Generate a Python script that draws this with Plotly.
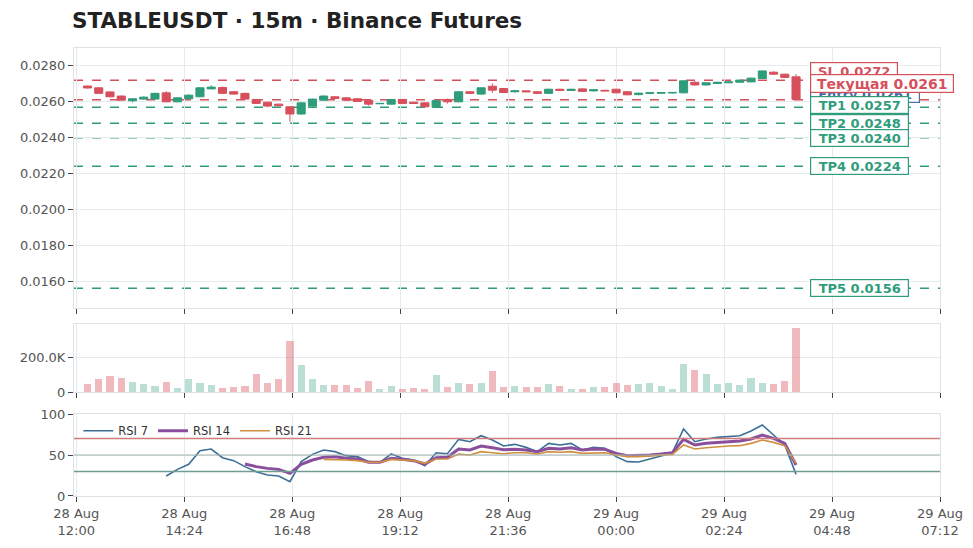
import pandas as pd
import plotly.graph_objects as go
from plotly.subplots import make_subplots

# 15m candles, 28 Aug 12:15 -> 29 Aug 04:00
times = pd.date_range("2025-08-28 12:15", periods=64, freq="15min")

opens = [0.02688, 0.02678, 0.02655, 0.02632, 0.02606, 0.02615, 0.02615, 0.02650, 0.02600, 0.02617,
         0.02628, 0.02672, 0.02680, 0.02656, 0.02647, 0.02613, 0.02598, 0.02587, 0.02572, 0.02532,
         0.02576, 0.02609, 0.02628, 0.02622, 0.02617, 0.02609, 0.02589, 0.02587, 0.02613, 0.02598,
         0.02594, 0.02569, 0.02613, 0.02600, 0.02656, 0.02643, 0.02687, 0.02674, 0.02656, 0.02661,
         0.02656, 0.02647, 0.02670, 0.02663, 0.02672, 0.02661, 0.02664, 0.02670, 0.02656, 0.02640,
         0.02647, 0.02648, 0.02649, 0.02650, 0.02709, 0.02694, 0.02702, 0.02706, 0.02709, 0.02711,
         0.02730, 0.02765, 0.02754, 0.02739]
highs = [0.02690, 0.02680, 0.02658, 0.02635, 0.02620, 0.02630, 0.02650, 0.02659, 0.02625, 0.02642,
         0.02682, 0.02692, 0.02685, 0.02660, 0.02650, 0.02616, 0.02600, 0.02590, 0.02575, 0.02598,
         0.02618, 0.02636, 0.02631, 0.02625, 0.02620, 0.02612, 0.02593, 0.02616, 0.02616, 0.02600,
         0.02597, 0.02609, 0.02618, 0.02659, 0.02659, 0.02681, 0.02702, 0.02677, 0.02666, 0.02663,
         0.02659, 0.02673, 0.02672, 0.02672, 0.02675, 0.02671, 0.02666, 0.02672, 0.02659, 0.02652,
         0.02654, 0.02655, 0.02655, 0.02720, 0.02715, 0.02708, 0.02711, 0.02714, 0.02723, 0.02735,
         0.02775, 0.02770, 0.02757, 0.02754]
lows = [0.02675, 0.02645, 0.02625, 0.02606, 0.02597, 0.02612, 0.02612, 0.02597, 0.02597, 0.02612,
        0.02625, 0.02670, 0.02645, 0.02640, 0.02612, 0.02588, 0.02569, 0.02575, 0.02489, 0.02528,
        0.02572, 0.02606, 0.02616, 0.02606, 0.02600, 0.02578, 0.02587, 0.02584, 0.02588, 0.02589,
        0.02569, 0.02566, 0.02590, 0.02597, 0.02645, 0.02640, 0.02650, 0.02650, 0.02650, 0.02653,
        0.02645, 0.02644, 0.02661, 0.02661, 0.02656, 0.02656, 0.02658, 0.02648, 0.02637, 0.02636,
        0.02643, 0.02645, 0.02646, 0.02647, 0.02690, 0.02691, 0.02700, 0.02704, 0.02707, 0.02709,
        0.02728, 0.02751, 0.02733, 0.02612]
closes = [0.02677, 0.02647, 0.02628, 0.02609, 0.02617, 0.02626, 0.02647, 0.02600, 0.02622, 0.02637,
          0.02678, 0.02682, 0.02647, 0.02643, 0.02615, 0.02591, 0.02576, 0.02578, 0.02532, 0.02594,
          0.02615, 0.02632, 0.02619, 0.02609, 0.02602, 0.02587, 0.02591, 0.02613, 0.02591, 0.02591,
          0.02572, 0.02606, 0.02600, 0.02656, 0.02647, 0.02678, 0.02665, 0.02652, 0.02661, 0.02656,
          0.02647, 0.02670, 0.02663, 0.02670, 0.02658, 0.02667, 0.02661, 0.02650, 0.02639, 0.02648,
          0.02650, 0.02651, 0.02652, 0.02717, 0.02694, 0.02706, 0.02709, 0.02711, 0.02721, 0.02732,
          0.02772, 0.02754, 0.02736, 0.02612]
volumes = [48500, 72000, 91000, 80000, 60000, 48500, 37000, 60000, 25000, 72000,
           54000, 43000, 21000, 31000, 37000, 101000, 54000, 72000, 295000, 155000,
           72000, 43000, 43000, 43000, 25000, 66000, 19000, 37000, 19000, 25000,
           19000, 95000, 31000, 54000, 48500, 54000, 120000, 27000, 33000, 27000,
           27000, 48500, 33000, 19000, 19000, 27000, 27000, 54000, 41000, 48500,
           54000, 33000, 19000, 159000, 126000, 101000, 48500, 54000, 39000, 80000,
           54000, 48500, 66000, 369000]

rsi7 = [None] * 7 + [24.4, 32.5, 38.6, 55.3, 57.3, 46.7, 43.1, 35.8, 29.7, 25.6,
                     24.4, 17.5, 41.9, 50.8, 56.1, 54.1, 49.2, 48.0, 41.9, 41.1,
                     51.2, 46.0, 43.9, 37.0, 52.8, 51.6, 69.1, 66.2, 73.5, 68.3,
                     61.0, 63.0, 59.3, 54.1, 64.2, 62.2, 64.2, 56.1, 59.3, 58.1,
                     48.0, 41.9, 41.5, 44.7, 48.8, 52.8, 81.7, 66.2, 69.5, 71.5,
                     72.4, 73.5, 79.3, 86.6, 74.4, 62.2, 26.4]
rsi14 = [None] * 14 + [39.0, 35.8, 33.7, 32.5, 27.6, 38.6, 43.9, 47.2, 48.0, 46.0,
                       45.1, 41.1, 41.1, 46.0, 44.7, 43.1, 39.0, 46.7, 47.2, 57.3,
                       56.1, 61.0, 58.9, 56.5, 57.0, 56.1, 54.1, 58.1, 57.3, 58.9,
                       56.1, 57.3, 57.0, 52.0, 49.2, 49.2, 50.0, 51.2, 52.8, 69.1,
                       62.2, 64.2, 65.4, 66.2, 67.1, 69.5, 74.4, 70.3, 64.2, 37.8]
rsi21 = [None] * 21 + [44.7, 44.7, 43.9, 43.1, 41.1, 41.1, 44.7, 43.9, 43.1, 39.8,
                       45.1, 45.1, 51.2, 50.0, 54.1, 52.8, 51.6, 52.8, 52.8, 51.2,
                       54.1, 53.3, 54.1, 52.0, 52.8, 52.8, 50.0, 48.0, 48.0, 48.8,
                       50.0, 50.8, 62.2, 57.3, 58.9, 60.4, 61.0, 61.4, 64.2, 68.3,
                       65.4, 61.4, 39.8]

# trade levels
sl = 0.0272
entry = 0.0261
current = closes[-1]
tp_names = ["TP1", "TP2", "TP3", "TP4", "TP5"]
tp_levels = [0.0257, 0.0248, 0.0240, 0.0224, 0.0156]

tick_times = ["2025-08-28 12:00", "2025-08-28 14:24", "2025-08-28 16:48", "2025-08-28 19:12",
              "2025-08-28 21:36", "2025-08-29 00:00", "2025-08-29 02:24", "2025-08-29 04:48",
              "2025-08-29 07:12"]
tick_labels = ["28 Aug<br>12:00", "28 Aug<br>14:24", "28 Aug<br>16:48", "28 Aug<br>19:12",
               "28 Aug<br>21:36", "29 Aug<br>00:00", "29 Aug<br>02:24", "29 Aug<br>04:48",
               "29 Aug<br>07:12"]

GREEN = "#2f9c7b"
RED = "#d6505c"
BLUE = "#4a6ea8"
GRID = "#e4ebef"
FRAME = "#dbe3e8"

fig = make_subplots(rows=3, cols=1, shared_xaxes=True)

fig.add_trace(go.Candlestick(
    x=times, open=opens, high=highs, low=lows, close=closes,
    increasing=dict(line=dict(color=GREEN, width=1), fillcolor=GREEN),
    decreasing=dict(line=dict(color=RED, width=1), fillcolor=RED),
    showlegend=False, hoverinfo="skip"), row=1, col=1)

vol_colors = ["rgba(47,156,123,0.32)" if c >= o else "rgba(214,80,92,0.40)"
              for o, c in zip(opens, closes)]
fig.add_trace(go.Bar(x=times, y=volumes, marker_color=vol_colors, marker_line_width=0,
                     width=9.5 * 60 * 1000, showlegend=False), row=2, col=1)

fig.add_trace(go.Scatter(x=times, y=rsi7, mode="lines", name="RSI 7",
                         line=dict(color="#3d6f96", width=1.6)), row=3, col=1)
fig.add_trace(go.Scatter(x=times, y=rsi14, mode="lines", name="RSI 14",
                         line=dict(color="#8a4f9c", width=3)), row=3, col=1)
fig.add_trace(go.Scatter(x=times, y=rsi21, mode="lines", name="RSI 21",
                         line=dict(color="#cf9040", width=1.6)), row=3, col=1)

# level lines (entry line sits under the current-price line)
fig.add_hline(y=sl, line=dict(color=RED, width=1.5, dash="dash"), layer="below", row=1, col=1)
fig.add_hline(y=current, line=dict(color=RED, width=1.5, dash="dash"), layer="below", row=1, col=1)
for lvl in tp_levels:
    fig.add_hline(y=lvl, line=dict(color=GREEN, width=1.5, dash="dash"), layer="below", row=1, col=1)

fig.add_hline(y=70, line=dict(color="#d07c7c", width=1.5), row=3, col=1)
fig.add_hline(y=50, line=dict(color="#a3b3b0", width=1), row=3, col=1)
fig.add_hline(y=30, line=dict(color="#6f9d93", width=1.5), row=3, col=1)

# labels on the right
label_x = "2025-08-29 04:18"


def level_label(text, y, color, shift, width, size=13):
    fig.add_annotation(x=label_x, y=y, xref="x", yref="y", text="<b>" + text + "</b>",
                       showarrow=False, xanchor="left", yanchor="middle", yshift=shift,
                       width=width, height=size + 1, align="center",
                       font=dict(size=size, color=color, family="DejaVu Sans"),
                       bgcolor="white", bordercolor=color, borderwidth=1.2, borderpad=1)


level_label("Entry %.4f" % entry, entry, BLUE, 6, 106)
level_label("SL %.4f" % sl, sl, RED, 9, 84)
for name, lvl in zip(tp_names, tp_levels):
    level_label("%s %.4f" % (name, lvl), lvl, GREEN, 2 if name == "TP1" else 0, 95)
level_label("Текущая %.4f" % current, current, RED, 16, 140, size=14)

axis_common = dict(showgrid=True, gridcolor=GRID, showline=True, mirror=True, linecolor=FRAME,
                   ticks="outside", ticklen=5, tickcolor="#444", zeroline=False,
                   tickfont=dict(size=13, color="#555"))

x_range = ["2025-08-28 11:57", "2025-08-29 07:12"]
for i in (1, 2, 3):
    fig.update_xaxes(range=x_range, tickvals=tick_times, ticktext=tick_labels,
                     showticklabels=(i == 3), row=i, col=1, **axis_common)

fig.update_yaxes(range=[0.0145, 0.0290], tickvals=[0.016, 0.018, 0.020, 0.022, 0.024, 0.026, 0.028],
                 tickformat=".4f", row=1, col=1, **axis_common)
fig.update_yaxes(range=[0, 390000], tickvals=[0, 200000], ticktext=["0", "200.0K"],
                 row=2, col=1, **axis_common)
fig.update_yaxes(range=[0, 100], tickvals=[0, 50, 100], row=3, col=1, **axis_common)

fig.update_layout(
    width=973, height=548,
    margin=dict(l=64, r=41, t=40, b=60),
    plot_bgcolor="white", paper_bgcolor="white",
    font=dict(family="DejaVu Sans", size=12, color="#555"),
    title=dict(text="<b>STABLEUSDT · 15m · Binance Futures</b>", x=64 / 973, xanchor="left",
               y=1 - 12 / 548, yanchor="middle", font=dict(size=21.5, color="#222")),
    xaxis_rangeslider_visible=False,
    yaxis=dict(domain=[0.4196, 1.0]),
    yaxis2=dict(domain=[0.2321, 0.3839]),
    yaxis3=dict(domain=[0.0, 0.183]),
    legend=dict(orientation="h", x=0.005, y=0.178, xanchor="left", yanchor="top",
                bgcolor="rgba(255,255,255,0)", font=dict(size=11.5, color="#333")),
    bargap=0,
    boxgap=0.2,
    boxgroupgap=0.1,
)

fig.write_html("out.html")
